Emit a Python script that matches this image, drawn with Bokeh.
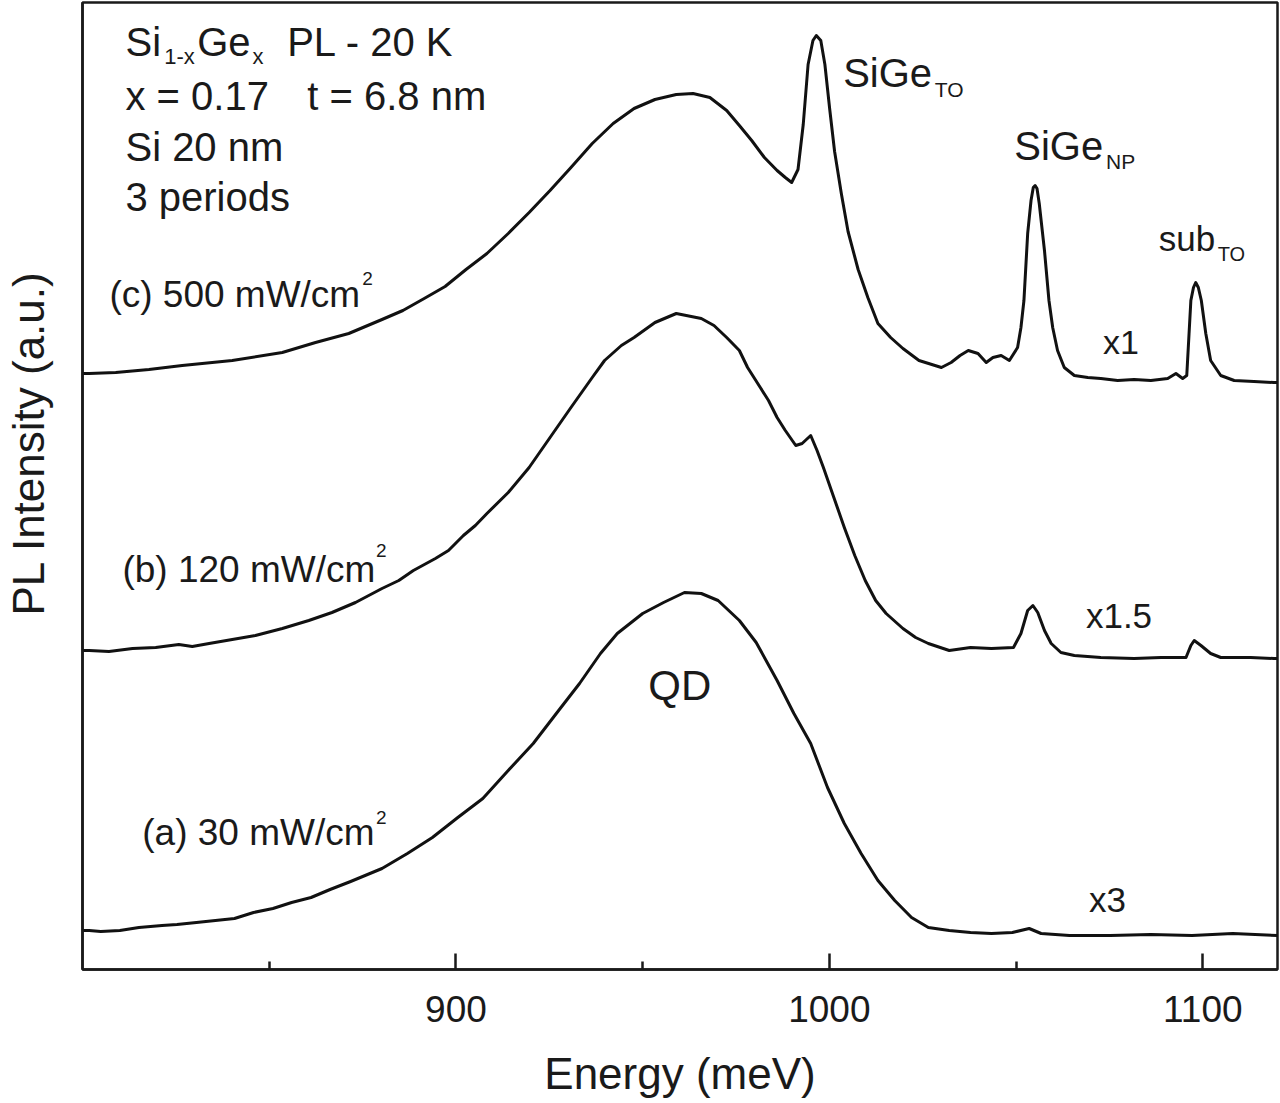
from bokeh.plotting import figure
from bokeh.models import Range1d, FixedTicker, Label, Title
from bokeh.embed import file_html
from bokeh.resources import INLINE

# ---- data (energy in meV, intensity in a.u., curves offset as plotted) ----
energy_c = [800.0, 801.8, 808.9, 817.8, 826.7, 840.1, 853.5, 862.4, 871.3, 880.2, 885.8, 891.5, 897.1,
            902.7, 908.3, 914.0, 919.6, 925.2, 930.8, 936.5, 942.1, 947.7, 953.3, 959.0, 963.5, 968.0,
            972.5, 975.9, 979.2, 982.6, 986.0, 988.2, 989.9, 991.6, 993.0, 994.3, 995.6, 996.5, 997.7,
            998.8, 1000.1, 1001.4, 1003.2, 1005.0, 1007.7, 1010.3, 1013.0, 1016.4, 1019.7, 1024.0,
            1030.0, 1032.6, 1035.0, 1037.2, 1039.8, 1042.0, 1043.8, 1046.0, 1048.2, 1050.4, 1051.3,
            1052.1, 1053.1, 1054.0, 1054.6, 1055.1, 1055.6, 1056.2, 1057.6, 1058.8, 1059.8, 1061.1,
            1062.9, 1065.6, 1069.2, 1072.7, 1077.2, 1081.6, 1086.1, 1090.6, 1092.8, 1094.6, 1095.7,
            1096.8, 1097.5, 1098.1, 1098.8, 1099.6, 1100.8, 1102.1, 1104.8, 1108.4, 1113.7, 1119.1,
            1120.0]
intensity_c = [596, 596, 597, 600, 604, 609, 617, 627, 636, 650, 659, 671, 683,
               700, 716, 736, 757, 779, 802, 826, 846, 861, 870, 875, 876, 872,
               859, 844, 829, 812, 799, 792, 787, 800, 845, 905, 929, 934, 929,
               905, 860, 818, 776, 738, 700, 672, 646, 632, 621, 609,
               602, 607, 614, 619, 616, 607, 612, 614, 609, 622, 642,
               669, 736, 769, 782, 784, 781, 766, 719, 669, 642, 619,
               602, 594, 592, 591, 589, 590, 589, 591, 596, 591, 594,
               669, 682, 687, 682, 669, 636, 609, 594, 589, 588, 587,
               587]

energy_b = [800.0, 801.8, 807.1, 813.4, 819.6, 825.8, 827.6, 829.4, 833.9, 840.1, 846.3, 853.5, 860.6,
            866.8, 873.1, 880.2, 884.7, 888.6, 894.5, 898.0, 902.0, 905.2, 908.3, 914.0, 919.6, 925.2,
            930.8, 936.5, 939.8, 944.3, 947.7, 953.3, 959.0, 965.7, 969.1, 972.5, 975.9, 978.1, 981.5,
            983.7, 986.0, 988.2, 991.0, 992.7, 995.0, 996.7, 998.4, 1001.2, 1004.0, 1006.8, 1009.6,
            1012.4, 1015.2, 1019.7, 1023.1, 1026.5, 1032.1, 1037.8, 1043.4, 1049.3, 1051.3, 1053.1,
            1054.5, 1055.8, 1057.6, 1059.4, 1062.0, 1065.6, 1072.7, 1081.6, 1088.8, 1095.5, 1096.8,
            1097.7, 1099.5, 1102.1, 1104.8, 1112.8, 1119.1, 1120.0]
intensity_b = [319, 319, 318, 321, 322, 325, 324, 323, 326, 330, 334, 341, 349,
               357, 367, 381, 389, 399, 411, 419, 434, 444, 456, 477, 502, 532,
               562, 592, 609, 624, 632, 647, 656, 651, 644, 632, 619, 602, 582,
               569, 552, 539, 524, 526, 534, 519, 502, 472, 442, 414, 389,
               369, 356, 341, 332, 326, 319, 322, 321, 322, 336, 359,
               364, 357, 339, 326, 317, 314, 312, 311, 312, 312, 324,
               329, 324, 316, 312, 312, 311, 311]

energy_a = [800.0, 801.8, 804.9, 810.0, 815.1, 821.3, 825.3, 830.5, 835.6, 840.7, 845.8, 851.0, 856.0,
            861.2, 866.3, 871.8, 880.2, 887.0, 893.7, 900.5, 907.2, 914.0, 920.7, 927.5, 933.1, 938.7,
            943.2, 950.0, 955.6, 961.2, 965.7, 970.2, 975.9, 980.4, 986.0, 990.5, 995.0, 999.5, 1004.0,
            1008.5, 1013.0, 1017.5, 1022.0, 1026.5, 1032.1, 1037.8, 1043.4, 1049.0, 1053.5, 1056.7,
            1064.3, 1075.2, 1086.1, 1097.1, 1108.0, 1120.0]
intensity_a = [39, 39, 38, 39, 42, 44, 45, 47, 49, 51, 57, 61, 67,
               72, 80, 88, 101, 116, 132, 152, 171, 199, 226, 259, 286, 316,
               336, 356, 367, 377, 376, 369, 349, 327, 289, 256, 226, 182, 146,
               116, 89, 69, 52, 42, 39, 37, 36, 37, 41, 36,
               34, 34, 35, 34, 36, 34]

major_ticks = [900, 1000, 1100]
minor_ticks = [850, 950, 1050]

FONT = "Liberation Sans"
INK = "#1a1a1a"

p = figure(width=1280, height=1103, output_backend="svg", toolbar_location=None,
           x_range=Range1d(800, 1120), y_range=Range1d(0, 967),
           min_border_left=82, min_border_right=3, min_border_top=2, min_border_bottom=134)
p.background_fill_color = "white"
p.border_fill_color = "white"
p.grid.visible = False
p.outline_line_color = INK
p.outline_line_width = 2.5
p.outline_line_alpha = 1.0

for ex, iy in [(energy_a, intensity_a), (energy_b, intensity_b), (energy_c, intensity_c)]:
    p.line(ex, iy, line_color="#111111", line_width=3, line_join="round")

xa = p.xaxis[0]
xa.ticker = FixedTicker(ticks=major_ticks, minor_ticks=minor_ticks)
xa.major_tick_in = 16
xa.major_tick_out = 0
xa.minor_tick_in = 8
xa.minor_tick_out = 0
xa.major_tick_line_width = 2.5
xa.minor_tick_line_width = 2.5
xa.major_tick_line_color = INK
xa.minor_tick_line_color = INK
xa.axis_line_width = 2.5
xa.axis_line_color = INK
xa.major_label_text_font = FONT
xa.major_label_text_font_size = "37px"
xa.major_label_text_color = INK
xa.major_label_standoff = 26
xa.axis_label = "Energy (meV)"
xa.axis_label_text_font = FONT
xa.axis_label_text_font_size = "44px"
xa.axis_label_text_font_style = "normal"
xa.axis_label_text_color = INK
xa.axis_label_standoff = 24

ya = p.yaxis[0]
ya.ticker = FixedTicker(ticks=[])
ya.major_label_text_font_size = "0px"
ya.major_tick_in = 0
ya.major_tick_out = 0
ya.minor_tick_in = 0
ya.minor_tick_out = 0
ya.axis_line_width = 2.5
ya.axis_line_color = INK

# spacing between the left axis line and the y title
spacer = Title(text=" ", text_font_size="1px", standoff=26)
p.add_layout(spacer, "left")

# y axis title, placed above the frame centre as in the original
ytitle = Title(text="PL Intensity (a.u.)", align="left", offset=354, vertical_align="middle",
               text_font=FONT, text_font_size="44px", text_font_style="normal", text_color=INK,
               standoff=0)
p.add_layout(ytitle, "left")


def add_text(x, y, text, size, align="left", baseline="alphabetic"):
    p.add_layout(Label(x=x, y=y, text=text, text_font=FONT, text_font_size=size,
                       text_color=INK, text_align=align, text_baseline=baseline))


# sample description block
add_text(811.5, 928, "Si", "40px")
add_text(821.9, 913, "1-x", "22px")
add_text(830.7, 928, "Ge", "40px")
add_text(845.5, 913, "x", "22px")
add_text(854.8, 928, "PL - 20 K", "40px")
add_text(811.5, 874, "x = 0.17", "40px")
add_text(860.2, 874, "t = 6.8 nm", "40px")
add_text(811.5, 823, "Si 20 nm", "40px")
add_text(811.5, 773, "3 periods", "40px")

# excitation power labels
add_text(807.2, 675, "(c) 500 mW/cm", "37px")
add_text(874.9, 691, "2", "19px")
add_text(810.7, 400, "(b) 120 mW/cm", "37px")
add_text(878.6, 419, "2", "19px")
add_text(816.0, 137, "(a) 30 mW/cm", "37px")
add_text(878.6, 152, "2", "19px")

# peak labels
add_text(1003.7, 897, "SiGe", "40px")
add_text(1028.2, 880, "TO", "21px")
add_text(1049.5, 824, "SiGe", "40px")
add_text(1074.1, 808, "NP", "21px")
add_text(1088.2, 731, "sub", "35px")
add_text(1104.0, 716, "TO", "20px")
add_text(951.5, 284, "QD", "42px")

# scale factors
add_text(1073.3, 628, "x1", "34px")
add_text(1068.7, 354, "x1.5", "35px")
add_text(1069.5, 70, "x3", "35px")

open("out.html", "w").write(file_html(p, INLINE))
